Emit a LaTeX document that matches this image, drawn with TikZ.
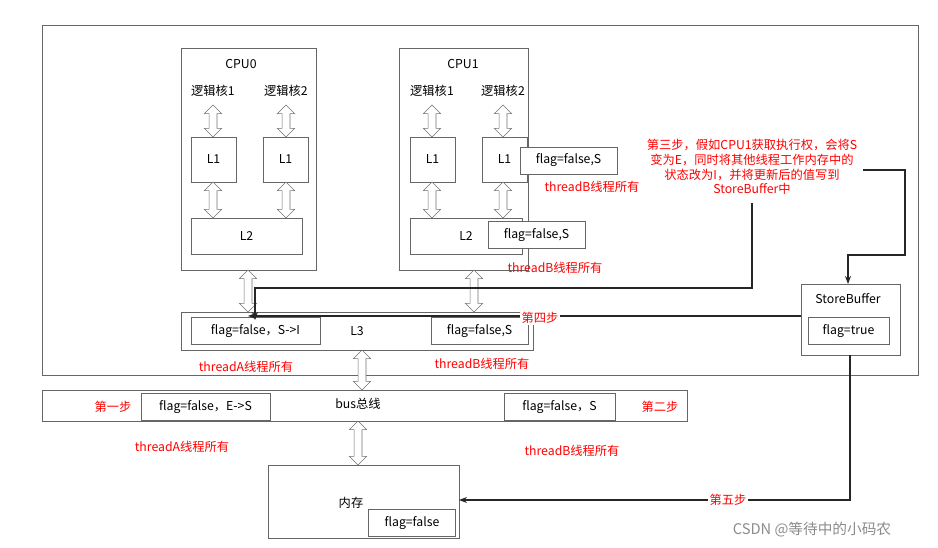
\documentclass[tikz,border=0pt]{standalone}
\usepackage{fontspec}
\setmainfont{Noto Sans CJK SC}
\usetikzlibrary{shapes.arrows,arrows.meta}
\begin{document}
\begin{tikzpicture}[x=0.75pt,y=-0.75pt,font=\fontsize{9.2}{11}\selectfont,
 box/.style={draw=black!60,fill=white},
 red/.style={text=red},
 dbl/.style={double arrow,draw=black!55,fill=white,minimum width=13pt,double arrow head extend=2pt,inner sep=1.5pt,rotate=90},
 conn/.style={draw=black!85,line width=1.3pt,-{Stealth[length=6pt]}}]
\useasboundingbox (0,0) rectangle (938,548);
\fill[white] (0,0) rectangle (938,548);
\draw[box] (42,25) rectangle (918,375);
% CPU0
\draw[box] (181,48) rectangle (316,270);
\node (c0) at (241,64) {CPU0};
\node (c0k1) at (213,91) {逻辑核1};
\node (c0k2) at (286,91) {逻辑核2};
\node[box,minimum width=34pt,minimum height=34pt] (c0l1a) at (213.5,159.5) {L1};
\node[box,minimum width=34pt,minimum height=34pt] (c0l1b) at (285.5,159.5) {L1};
\node[box,minimum width=83pt,minimum height=27pt] (c0l2) at (246.5,236) {L2};
% CPU1
\draw[box] (399,48) rectangle (528,270);
\node (c1) at (463,64) {CPU1};
\node (c1k1) at (432,91) {逻辑核1};
\node (c1k2) at (503,91) {逻辑核2};
\node[box,minimum width=34pt,minimum height=34pt] (c1l1a) at (432.5,159.5) {L1};
\node[box,minimum width=34pt,minimum height=34pt] (c1l1b) at (504.5,159.5) {L1};
\draw[box] (410,218) rectangle (522,254);
\node (c1l2) at (466,236) {L2};
\node[box,minimum width=73pt,minimum height=20pt] (f1) at (568.5,160.5) {flag=false,S};
\node[box,minimum width=73pt,minimum height=20pt] (f2) at (536.5,235) {flag=false,S};
\node[red] (tb1) at (592,187) {threadB线程所有};
\node[red] (tb2) at (555,268) {threadB线程所有};
% double arrows
\foreach \x/\a/\b in {213/105/137,286/105/137,213/182/218,286/182/218,432/105/137,503/105/137,432/182/218,503/182/218,248/270/312,474/270/312,362/350/390,358/421/465}
 \node[dbl,minimum height={(\b-\a)*0.75pt}] at (\x,{(\a+\b)/2}) {};
% L3
\draw[box] (181,312) rectangle (533,350);
\node (l3) at (357,331) {L3};
\node[box,minimum width=97pt,minimum height=20pt] (f3) at (255.5,331) {flag=false，S->I};
\node[box,minimum width=73pt,minimum height=20pt] (f4) at (479.5,331) {flag=false,S};
\node[red] (ta1) at (246,367) {threadA线程所有};
\node[red] (tb3) at (482,364) {threadB线程所有};
% bus
\draw[box] (42,390) rectangle (687,421);
\node (bus) at (358,404) {bus总线};
\node[red] (s1) at (113,407) {第一步};
\node[box,minimum width=97pt,minimum height=20pt] (f5) at (205.5,407) {flag=false，E->S};
\node[box,minimum width=83pt,minimum height=20pt] (f6) at (559.5,407) {flag=false，S};
\node[red] (s2) at (660,407) {第二步};
\node[red] (ta2) at (182,447) {threadA线程所有};
\node[red] (tb4) at (572,451) {threadB线程所有};
% memory
\draw[box] (268,465) rectangle (459,538);
\coordinate (memR) at (459,500);
\node (mem) at (351,503) {内存};
\node[box,minimum width=65pt,minimum height=20pt] (f7) at (412,523) {flag=false};
% StoreBuffer
\draw[box] (801,284) rectangle (900,355);
\coordinate (sbT) at (848,284);
\coordinate (sbL) at (801,316);
\coordinate (sbB) at (850,355);
\node (sb) at (848,299) {StoreBuffer};
\node[box,minimum width=61pt,minimum height=20pt] (f8) at (848.5,331) {flag=true};
% step 3 text
\node[red,align=center] (s3) at (752,167) {第三步，假如CPU1获取执行权，会将S\\变为E，同时将其他线程工作内存中的\\状态改为I，并将更新后的值写到\\StoreBuffer中};
\coordinate (s3r) at (863,170);
\coordinate (s3b) at (752,203);
\draw[conn] (s3r) -- (905,170) -- (905,255) -- (848,255) -- (sbT);
\draw[conn] (s3b) -- (752,288) -- (255,288) -- (255,320);
\draw[conn] (sbL) -- (248,316);
\node[red,fill=white,inner sep=1pt] (s4) at (540,318) {第四步};
\draw[conn] (sbB) -- (850,500) -- (memR);
\node[red,fill=white,inner sep=1pt] (s5) at (728,500) {第五步};
\node[text=black!45,font=\fontsize{11}{13}\selectfont] (wm) at (812,530) {CSDN @等待中的小码农};
\end{tikzpicture}
\end{document}
